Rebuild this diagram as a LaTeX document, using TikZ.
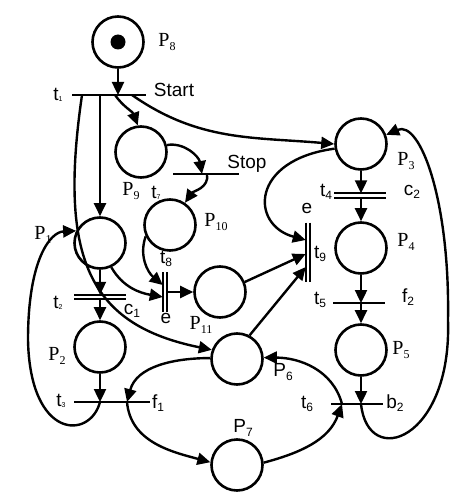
\documentclass[tikz,border=0pt]{standalone}
\usepackage{fontspec}
\setmainfont{Liberation Serif}
\setsansfont{Liberation Sans}
\usetikzlibrary{arrows.meta,calc}
\newcommand\serlab[2]{{\fontsize{20}{20}\selectfont\rmfamily #1\raisebox{-4pt}{\fontsize{12}{12}\selectfont #2}}}
\newcommand\sanlab[2]{{\fontsize{19}{19}\selectfont\sffamily #1\raisebox{-3.5pt}{\fontsize{12}{12}\selectfont #2}}}
\newcommand\tinylab[2]{{\fontsize{19}{19}\selectfont\sffamily #1\raisebox{-1pt}{\fontsize{7}{7}\selectfont #2}}}
\begin{document}
\begin{tikzpicture}[x=1pt,y=1pt,
  place/.style={circle,draw,line width=2.6pt,minimum size=51pt,inner sep=0pt},
  trans/.style={rectangle,draw=none,inner sep=0pt,outer sep=0pt,minimum height=0pt},
  bar/.style={line width=2.8pt},
  dbar/.style={line width=2.2pt},
  parc/.style={line width=2.4pt,-{Triangle[length=13pt,width=12pt]}},
  lab/.style={inner sep=0pt,anchor=center},
  word/.style={inner sep=0pt,anchor=center,font=\fontsize{19}{19}\selectfont\sffamily}]
\useasboundingbox (0,0) rectangle (454,-500);

% places
\node[place] (P8) at (118,-42) {};
\node[circle,fill,minimum size=15pt,inner sep=0pt] (tok) at (P8) {};
\node[place] (P9) at (141,-152) {};
\node[place] (P10) at (170,-225) {};
\node[place] (P1) at (100,-243) {};
\node[place] (P11) at (220,-292) {};
\node[place] (P2) at (100,-347) {};
\node[place] (P6) at (237,-359) {};
\node[place] (P7) at (237,-465) {};
\node[place] (P3) at (361,-144) {};
\node[place] (P4) at (361,-248) {};
\node[place] (P5) at (361,-350) {};

% transitions
\node[trans,minimum width=74pt] (t1) at (109,-95) {};
\node[trans,minimum width=66pt] (t7) at (206,-174) {};
\node[trans,minimum width=4.5pt,minimum height=40pt] (t8) at (165,-292) {};
\node[trans,minimum width=4.5pt,minimum height=59pt] (t9) at (308,-252) {};
\node[trans,minimum width=52pt,minimum height=4.5pt] (t2) at (100,-297) {};
\node[trans,minimum width=52pt,minimum height=4.5pt] (t4) at (360,-195.5) {};
\node[trans,minimum width=52pt] (t5) at (359,-303) {};
\node[trans,minimum width=52pt] (t6) at (357,-404) {};
\node[trans,minimum width=76pt] (t3) at (112,-402) {};

\draw[bar] (t1.west) -- (t1.east);
\draw[bar] (t7.west) -- (t7.east);
\draw[bar] (t5.west) -- (t5.east);
\draw[bar] (t6.west) -- (t6.east);
\draw[bar] (t3.west) -- (t3.east);
\draw[dbar] (t2.north west) -- (t2.north east) (t2.south west) -- (t2.south east);
\draw[dbar] (t4.north west) -- (t4.north east) (t4.south west) -- (t4.south east);
\draw[dbar] (t8.north west) -- (t8.south west) (t8.north east) -- (t8.south east);
\draw[dbar] (t9.north west) -- (t9.south west) (t9.north east) -- (t9.south east);

% arcs
\draw[parc] (P8) -- ([xshift=9pt]t1.center);
\draw[parc] ([xshift=6pt]t1.center) to[out=-55,in=110] (P9.97);
\draw[parc] ([xshift=23pt]t1.center) to[out=-35,in=175] (P3.180);
\draw[parc] ([xshift=-9pt]t1.center) -- (P1.north);
\draw[parc] ([xshift=-27pt]t1.center) .. controls (58,-260) and (90,-325) .. (P6.160);
\draw[parc] (P9.15) to[out=10,in=100] ([xshift=-4pt]t7.center);
\draw[parc] ([xshift=1pt]t7.center) to[out=-80,in=55] (P10.56);
\draw[parc] (P10.205) to[out=-110,in=140] ([yshift=7pt]t8.west);
\draw[parc] (P1.-65) to[out=-60,in=170] ([yshift=-5pt]t8.west);
\draw[parc] (t8.east) -- (P11.west);
\draw[parc] (P11.22) -- ([yshift=-2pt]t9.west);
\draw[parc] (P6.62) -- ([yshift=-15pt]t9.west);
\draw[parc] (P3.190) .. controls (250,-160) and (250,-225) .. ([yshift=12pt]t9.west);
\draw[parc] (P3.south) -- (P3.south |- t4.north);
\draw[parc] (P4.north |- t4.south) -- (P4.north);
\draw[parc] (P4.south) -- (P4.south |- t5.center);
\draw[parc] (P5.north |- t5.center) -- (P5.north);
\draw[parc] (P5.south) -- (P5.south |- t6.center);
\draw[parc] (P5.south |- t6.center) .. controls (368,-470) and (452,-440) .. (448,-320)
   .. controls (450,-200) and (420,-120) .. (P3.20);
\draw[parc] (P7.5) to[out=15,in=-110] ([xshift=-15pt]t6.center);
\draw[parc] ([xshift=-15pt]t6.center) to[out=105,in=0] (P6.3);
\draw[parc] (P6.178) to[out=180,in=75] ([xshift=15pt]t3.center);
\draw[parc] ([xshift=15pt]t3.center) to[out=-85,in=165] (P7.174);
\draw[parc] (P1.south) -- (P1.south |- t2.north);
\draw[parc] (P2.north |- t2.south) -- (P2.north);
\draw[parc] (P2.south) -- (P2.south |- t3.center);
\draw[parc] ([xshift=-12pt]t3.center) .. controls (90,-440) and (30,-440) .. (28,-340)
   .. controls (28,-260) and (50,-232) .. (P1.153);

% labels
\node[lab] (lP8) at (167,-42) {\serlab{P}{8}};
\node[lab] (lt1) at (58,-95) {\tinylab{t}{1}};
\node[word] (lStart) at (174,-90) {Start};
\node[lab] (lP9) at (131,-191) {\serlab{P}{9}};
\node[word] (lStop) at (247,-164) {Stop};
\node[lab] (lt7) at (156,-193) {\tinylab{t}{7}};
\node[lab] (lP10) at (216,-222) {\serlab{P}{10}};
\node[lab] (lt8) at (166,-259) {\sanlab{t}{8}};
\node[word] (le1) at (166,-318) {e};
\node[lab] (lP1) at (43,-235) {\serlab{P}{1}};
\node[lab] (lt2) at (58,-303) {\tinylab{t}{2}};
\node[lab] (lc1) at (132,-311) {\sanlab{c}{1}};
\node[lab] (lP11) at (201,-325) {\serlab{P}{11}};
\node[lab] (lP2) at (57,-356) {\serlab{P}{2}};
\node[lab] (lt3) at (61,-401) {\tinylab{t}{3}};
\node[lab] (lf1) at (158,-403) {\sanlab{f}{1}};
\node[lab] (lP6) at (283,-372) {\sanlab{P}{6}};
\node[lab] (lP7) at (243,-428) {\sanlab{P}{7}};
\node[lab] (lt6) at (307,-404) {\sanlab{t}{6}};
\node[lab] (lb2) at (395,-403) {\sanlab{b}{2}};
\node[lab] (lP5) at (401,-350) {\serlab{P}{5}};
\node[lab] (lt5) at (320,-300) {\sanlab{t}{5}};
\node[lab] (lf2) at (408,-297) {\sanlab{f}{2}};
\node[lab] (lP4) at (406,-242) {\serlab{P}{4}};
\node[lab] (lt4) at (326,-192) {\sanlab{t}{4}};
\node[lab] (lc2) at (412,-192) {\sanlab{c}{2}};
\node[word] (le2) at (307,-208) {e};
\node[lab] (lt9) at (320,-254) {\sanlab{t}{9}};
\node[lab] (lP3) at (406,-161) {\serlab{P}{3}};
\end{tikzpicture}
\end{document}
